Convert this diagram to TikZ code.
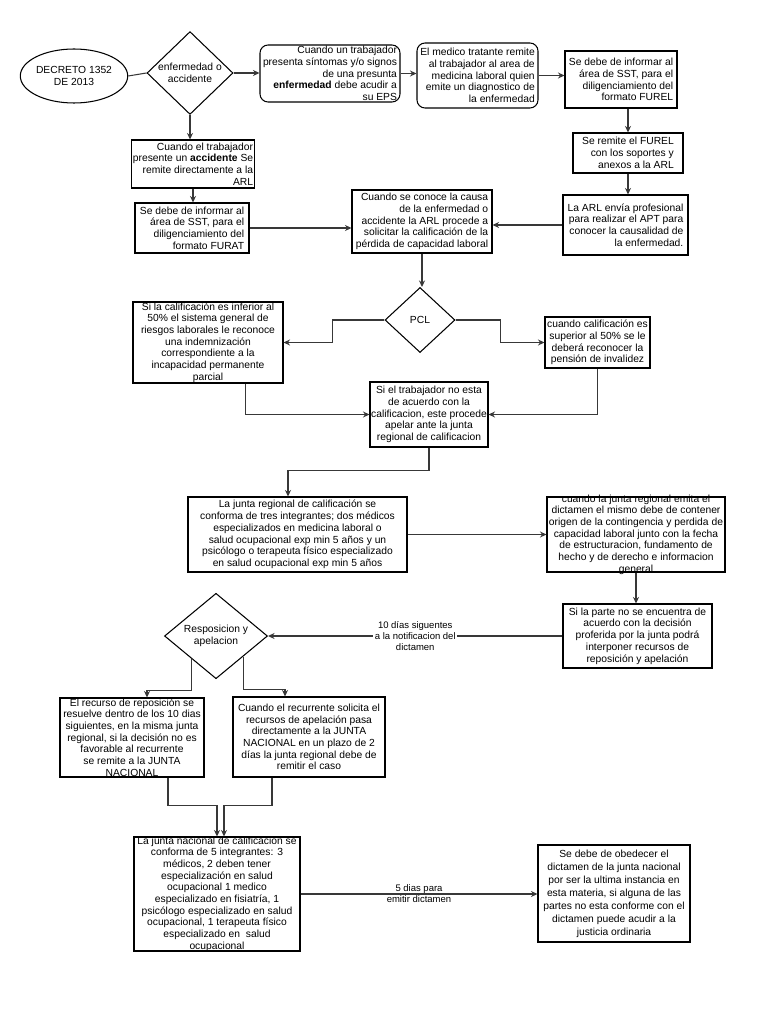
\documentclass[tikz,border=0pt]{standalone}
\usepackage{fontspec}
\setmainfont{Liberation Sans}
\usetikzlibrary{shapes.geometric,arrows.meta,calc}
\newcommand{\fsz}{\fontsize{10.3}{11.7}\selectfont}
\tikzset{
  box/.style={draw=black, line width=1.05pt, fill=white, inner sep=1pt, font=\fsz, align=center},
  rbox/.style={box, rounded corners=8pt},
  txt/.style={inner sep=0pt, font=\fsz, align=center},
  dia/.style={draw=black, diamond, line width=1.05pt, inner sep=0pt, font=\fsz, align=center},
  ell/.style={draw=black, ellipse, line width=1.05pt, inner sep=0pt, font=\fsz, align=center},
  conn/.style={draw=black!78, line width=1.05pt, -{Stealth[length=6.5pt,width=6pt]}},
  plain/.style={draw=black!78, line width=1.05pt},
  lbl/.style={font=\fontsize{9.5}{11}\selectfont, align=center, fill=white, inner sep=1.5pt},
  lbln/.style={font=\fontsize{9.5}{11}\selectfont, align=center, inner sep=1pt}
}
\begin{document}
\begin{tikzpicture}[x=1pt,y=-1pt]
\useasboundingbox (0,0) rectangle (768,1024);
% top row
\node[ell, minimum width=84pt, minimum height=54pt] (dec) at (74,76) {DECRETO 1352\\DE 2013};
\node[dia, minimum width=86pt, minimum height=80pt] (d1) at (190,73) {enfermedad o\\accidente};
\node[rbox, align=right, minimum width=140pt, minimum height=57pt] (b1) at (330,73.5)
  {Cuando un trabajador\\presenta síntomas y/o signos\\de una presunta\\\textbf{enfermedad} debe acudir a\\su EPS};
\node[rbox, align=right, minimum width=121pt, minimum height=65pt] (b2) at (477.5,75.5)
  {El medico tratante remite\\al trabajador al area de\\medicina laboral quien\\emite un diagnostico de\\la enfermedad};
\node[box, align=right, minimum width=112pt, minimum height=57pt] (b3) at (621,79.5)
  {Se debe de informar al\\área de SST, para el\\diligenciamiento del\\formato FUREL};
\node[box, align=right, minimum width=110pt, minimum height=40pt] (b4) at (628,153)
  {Se remite el FUREL\\con los soportes y\\anexos a la ARL};
\node[box, align=right, minimum width=125pt, minimum height=60pt] (b5) at (625.5,225)
  {La ARL envía profesional\\para realizar el APT para\\conocer la causalidad de\\la enfermedad.};
\node[box, align=right, minimum width=140pt, minimum height=63pt] (b6) at (422,221.5)
  {Cuando se conoce la causa\\de la enfermedad o\\accidente la ARL procede a\\solicitar la calificación de la\\pérdida de capacidad laboral};
\node[box, align=right, minimum width=120pt, minimum height=48pt] (b7) at (193,164)
  {Cuando el trabajador\\presente un \textbf{accidente} Se\\remite directamente a la\\ARL};
\node[box, align=right, minimum width=114pt, minimum height=50pt] (b8) at (192,228)
  {Se debe de informar al\\área de SST, para el\\diligenciamiento del\\formato FURAT};
% PCL
\node[dia, minimum width=70pt, minimum height=65pt] (pcl) at (420,320) {PCL};
\node[box, minimum width=150pt, minimum height=81pt] (b9) at (208,342.5) {};
\node[txt] at (b9.center) {Si la calificación es inferior al\\50\% el sistema general de\\riesgos laborales le reconoce\\una indemnización\\correspondiente a la\\incapacidad permanente\\parcial};
\node[box, minimum width=105pt, minimum height=51pt] (b10) at (597.5,342.5)
  {cuando calificación es\\superior al 50\% se le\\deberá reconocer la\\pensión de invalidez};
\node[box, minimum width=118pt, minimum height=65pt] (b11) at (429,414.5)
  {Si el trabajador no esta\\de acuerdo con la\\calificacion, este procede\\apelar ante la junta\\regional de calificacion};
% regional
\node[box, minimum width=219pt, minimum height=75pt] (b12) at (297.5,534.5)
  {La junta regional de calificación se\\conforma de tres integrantes; dos médicos\\especializados en medicina laboral o\\salud ocupacional exp min 5 años y un\\psicólogo o terapeuta físico especializado\\en salud ocupacional exp min 5 años};
\node[box, minimum width=178pt, minimum height=75pt] (b13) at (636,534.5) {};
\node[txt] at (b13.center) {cuando la junta regional emita el\\dictamen el mismo debe de contener\\origen de la contingencia y perdida de\\capacidad laboral junto con la fecha\\de estructuracion, fundamento de\\hecho y de derecho e informacion\\general};
\node[box, minimum width=149pt, minimum height=64pt] (b14) at (637.5,636)
  {Si la parte no se encuentra de\\acuerdo con la decisión\\proferida por la junta podrá\\interponer recursos de\\reposición y apelación};
\node[dia, minimum width=103pt, minimum height=68pt] (d2) at (216,636) {Resposicion y\\apelacion};
\node[box, minimum width=144pt, minimum height=79pt] (b15) at (132,737.5) {};
\node[txt] at (b15.center) {El recurso de reposición se\\resuelve dentro de los 10 dias\\siguientes, en la misma junta\\regional, si la decisión no es\\favorable al recurrente\\se remite a la JUNTA\\NACIONAL};
\node[box, minimum width=152pt, minimum height=80pt] (b16) at (309,737)
  {Cuando el recurrente solicita el\\recursos de apelación pasa\\directamente a la JUNTA\\NACIONAL en un plazo de 2\\días la junta regional debe de\\remitir el caso};
\node[box, minimum width=166pt, minimum height=114pt] (b17) at (217,894) {};
\node[txt] at (b17.center) {La junta nacional de calificación se\\conforma de 5 integrantes: 3\\médicos, 2 deben tener\\especialización en salud\\ocupacional 1 medico\\especializado en fisiatría, 1\\psicólogo especializado en salud\\ocupacional, 1 terapeuta físico\\especializado en \ salud\\ocupacional};
\node[box, font=\fontsize{10.3}{13}\selectfont, minimum width=152pt, minimum height=97pt] (b18) at (614,893.5)
  {Se debe de obedecer el\\dictamen de la junta nacional\\por ser la ultima instancia en\\esta materia, si alguna de las\\partes no esta conforme con el\\dictamen puede acudir a la\\justicia ordinaria};
% connectors
\draw[plain] (dec.east) -- (d1.west);
\draw[conn] (d1.east) -- (d1.east -| b1.west);
\draw[conn] (b1.east) -- (b1.east -| b2.west);
\draw[conn] (b2.east) -- (b2.east -| b3.west);
\draw[conn] (b4.north |- b3.south) -- (b4.north);
\draw[conn] (b4.south) -- (b4.south |- b5.north);
\draw[conn] (b5.west) -- (b5.west -| b6.east);
\draw[conn] (d1.south) -- (d1.south |- b7.north);
\draw[conn] (b7.south) -- (b7.south |- b8.north);
\draw[conn] (b8.east) -- (b8.east -| b6.west);
\draw[conn] (b6.south) -- (b6.south |- pcl.north);
\draw[conn] (pcl.west) -- ++(-52,0) |- (b9.east);
\draw[conn] (pcl.east) -- ++(45,0) |- (b10.west);
\draw[conn] ($(b9.south east)!0.25!(b9.south west)$) |- (b11.west);
\draw[conn] (b10.south) |- (b11.east);
\draw[conn] (b11.south) -- ++(0,23) -| ([xshift=-9.5pt]b12.north);
\draw[conn] (b12.east) -- (b12.east -| b13.west);
\draw[conn] (b13.south) -- (b13.south |- b14.north);
\draw[conn] (b14.west) -- node[lbl] {10 días siguentes\\a la notificacion del\\dictamen} (b14.west -| d2.east);
\draw[conn] ($(d2.west)!0.534!(d2.south)$) -- ++(0,31) -| ([xshift=15pt]b15.north);
\draw[conn] ($(d2.east)!0.476!(d2.south)$) -- ++(0,33) -| ([xshift=-24pt]b16.north);
\draw[conn] ([xshift=36pt]b15.south) -- ++(0,28) -| (b17.north);
\draw[conn] ([xshift=-37pt]b16.south) -- ++(0,28) -| ([xshift=7pt]b17.north);
\draw[conn] (b17.east) -- node[lbln] {5 dias para\\emitir dictamen} (b17.east -| b18.west);
\end{tikzpicture}
\end{document}
